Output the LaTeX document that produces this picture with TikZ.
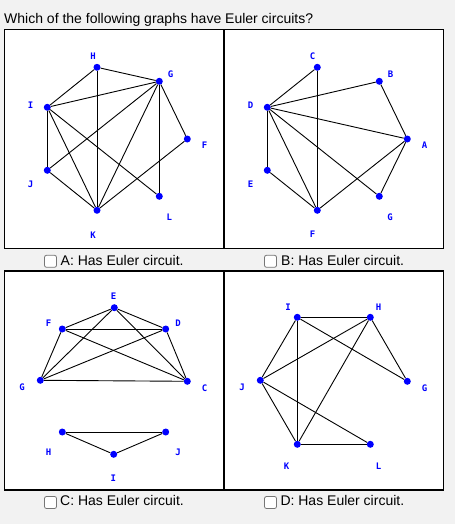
\documentclass[tikz,border=0pt]{standalone}
\usepackage{fontspec}
\setmainfont{Liberation Sans}
\newfontfamily\vtxfont{DejaVu Sans Mono}
\usepackage{xcolor}
\usepackage{tikz}
\usetikzlibrary{positioning}

\definecolor{pagebg}{HTML}{F2F2F2}
\definecolor{vtxblue}{HTML}{0000FF}
\definecolor{chkgray}{HTML}{767676}

\begin{document}
\begin{tikzpicture}[
  x=1pt, y=-1pt,
  panel/.style={draw, fill=white, line width=1.1pt},
  vtx/.style={circle, fill=vtxblue, inner sep=0pt, minimum size=7pt},
  lbl/.style={text=vtxblue, font=\vtxfont\bfseries\fontsize{9}{9}\selectfont, inner sep=0pt},
  edge/.style={line width=0.9pt},
  chk/.style={draw=chkgray, fill=white, rounded corners=2pt, minimum size=12pt, inner sep=0pt, line width=0.8pt},
  opt/.style={anchor=base west, inner sep=0pt, font=\fontsize{14}{16}\selectfont}
]
\fill[pagebg] (0,0) rectangle (455,524);
\useasboundingbox (0,0) rectangle (455,524);

\node[anchor=base west, inner sep=0pt, font=\fontsize{14}{16}\selectfont] (title) at (4,24) {Which of the following graphs have Euler circuits?};

% panels
\draw[panel] (4.8,29.5) rectangle (223.6,248.6);
\draw[panel] (224.4,29.5) rectangle (443.8,248.6);
\draw[panel] (4.8,271) rectangle (223.6,490);
\draw[panel] (224.4,271) rectangle (443.8,490);

% (A)
\node[vtx] (aH) at (97,67.3) {};
\node[vtx] (aG) at (159.3,81.3) {};
\node[vtx] (aI) at (47.3,107.3) {};
\node[vtx] (aF) at (187.3,139) {};
\node[vtx] (aJ) at (47.3,170.3) {};
\node[vtx] (aL) at (159.3,196.3) {};
\node[vtx] (aK) at (97,210.3) {};
\node[lbl] (aHl) at (93,56.3) {H};
\node[lbl] (aGl) at (170.7,74) {G};
\node[lbl] (aIl) at (30.7,105.7) {I};
\node[lbl] (aFl) at (204.7,145.7) {F};
\node[lbl] (aJl) at (30.7,184.7) {J};
\node[lbl] (aLl) at (169.3,217.3) {L};
\node[lbl] (aKl) at (93,235.3) {K};

\draw[edge] (aH) -- (aG);
\draw[edge] (aH) -- (aI);
\draw[edge] (aH) -- (aK);
\draw[edge] (aG) -- (aI);
\draw[edge] (aG) -- (aJ);
\draw[edge] (aG) -- (aK);
\draw[edge] (aG) -- (aL);
\draw[edge] (aG) -- (aF);
\draw[edge] (aI) -- (aJ);
\draw[edge] (aI) -- (aK);
\draw[edge] (aI) -- (aL);
\draw[edge] (aJ) -- (aK);
\draw[edge] (aF) -- (aK);

\node[chk] (chkA) at (50.5,261.3) {};
\node[opt] (optA) at (60.5,265.6) {A: Has Euler circuit.};

% (B)
\node[vtx] (bC) at (317.3,67.3) {};
\node[vtx] (bB) at (379.3,81.3) {};
\node[vtx] (bD) at (267.3,107.3) {};
\node[vtx] (bA) at (407.3,139) {};
\node[vtx] (bE) at (267.3,170.3) {};
\node[vtx] (bG) at (379.3,196.3) {};
\node[vtx] (bF) at (317.3,210.3) {};
\node[lbl] (bCl) at (312.7,56.3) {C};
\node[lbl] (bBl) at (390.7,74) {B};
\node[lbl] (bDl) at (250.7,105.7) {D};
\node[lbl] (bAl) at (424.7,145.7) {A};
\node[lbl] (bEl) at (250.7,184.7) {E};
\node[lbl] (bGl) at (390,217.3) {G};
\node[lbl] (bFl) at (312.7,234.7) {F};

\draw[edge] (bC) -- (bD);
\draw[edge] (bC) -- (bF);
\draw[edge] (bD) -- (bB);
\draw[edge] (bD) -- (bA);
\draw[edge] (bD) -- (bG);
\draw[edge] (bD) -- (bF);
\draw[edge] (bD) -- (bE);
\draw[edge] (bB) -- (bA);
\draw[edge] (bA) -- (bG);
\draw[edge] (bA) -- (bF);
\draw[edge] (bE) -- (bF);

\node[chk] (chkB) at (270.5,261.3) {};
\node[opt] (optB) at (281,265.6) {B: Has Euler circuit.};

% (C)
\node[vtx] (cE) at (114.3,307.7) {};
\node[vtx] (cF) at (62.3,329) {};
\node[vtx] (cD) at (165.7,329) {};
\node[vtx] (cG) at (40.3,380.3) {};
\node[vtx] (cC) at (187.3,381.3) {};
\node[vtx] (cH) at (62.3,432) {};
\node[vtx] (cJ) at (165.7,432) {};
\node[vtx] (cI) at (113.7,454.3) {};
\node[lbl] (cEl) at (113.7,296) {E};
\node[lbl] (cFl) at (48.7,323.3) {F};
\node[lbl] (cDl) at (178,323.3) {D};
\node[lbl] (cGl) at (22,387.3) {G};
\node[lbl] (cCl) at (204.7,388.3) {C};
\node[lbl] (cHl) at (48.7,452.3) {H};
\node[lbl] (cJl) at (178,452.3) {J};
\node[lbl] (cIl) at (113.3,478.3) {I};

\draw[edge] (cE) -- (cF);
\draw[edge] (cE) -- (cD);
\draw[edge] (cE) -- (cG);
\draw[edge] (cE) -- (cC);
\draw[edge] (cF) -- (cD);
\draw[edge] (cF) -- (cG);
\draw[edge] (cF) -- (cC);
\draw[edge] (cD) -- (cG);
\draw[edge] (cD) -- (cC);
\draw[edge] (cG) -- (cC);
\draw[edge] (cH) -- (cJ);
\draw[edge] (cH) -- (cI);
\draw[edge] (cI) -- (cJ);

\node[chk] (chkC) at (50.5,502.5) {};
\node[opt] (optC) at (60,505.6) {C: Has Euler circuit.};

% (D)
\node[vtx] (dI) at (297.3,317.3) {};
\node[vtx] (dH) at (370.3,317.3) {};
\node[vtx] (dJ) at (260.3,380.3) {};
\node[vtx] (dG) at (407.3,381.3) {};
\node[vtx] (dK) at (297.3,444.3) {};
\node[vtx] (dL) at (370.3,444.3) {};
\node[lbl] (dIl) at (288,307.7) {I};
\node[lbl] (dHl) at (378.7,307.7) {H};
\node[lbl] (dJl) at (242,387.3) {J};
\node[lbl] (dGl) at (424.7,388.3) {G};
\node[lbl] (dKl) at (286.7,466.7) {K};
\node[lbl] (dLl) at (378.7,466.7) {L};

\draw[edge] (dI) -- (dH);
\draw[edge] (dI) -- (dJ);
\draw[edge] (dI) -- (dK);
\draw[edge] (dI) -- (dG);
\draw[edge] (dH) -- (dJ);
\draw[edge] (dH) -- (dK);
\draw[edge] (dH) -- (dG);
\draw[edge] (dJ) -- (dK);
\draw[edge] (dJ) -- (dL);
\draw[edge] (dK) -- (dL);

\node[chk] (chkD) at (270.5,502.5) {};
\node[opt] (optD) at (280.3,505.6) {D: Has Euler circuit.};

\end{tikzpicture}
\end{document}
